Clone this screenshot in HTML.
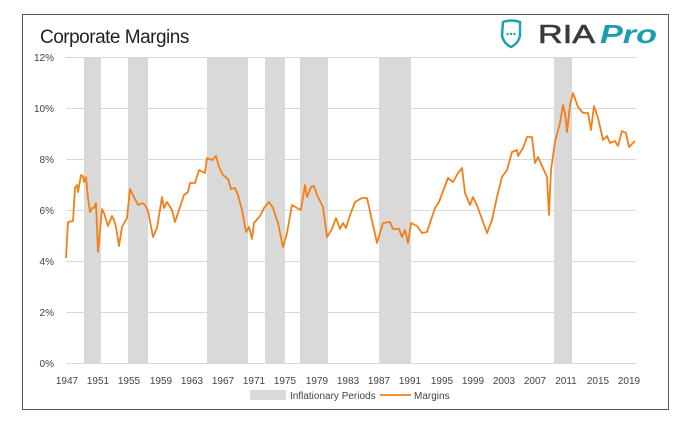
<!DOCTYPE html>
<html><head><style>
body{margin:0;background:#fff;width:696px;height:422px;overflow:hidden;font-family:"Liberation Sans",sans-serif}
</style></head><body>
<svg width="696" height="422" viewBox="0 0 696 422" xmlns="http://www.w3.org/2000/svg" font-family="Liberation Sans, sans-serif">
<rect x="22.5" y="14.5" width="646" height="395" fill="#fff" stroke="#555" stroke-width="1"/>
<text x="40" y="43" font-size="19" fill="#222" letter-spacing="-0.5">Corporate Margins</text>
<path d="M503 22 Q511 19 520 22 L520 35 Q519 43 511 47 Q503 43 502 35 Z" fill="none" stroke="#1aa3a8" stroke-width="2.5"/>
<circle cx="507.5" cy="34" r="1.2" fill="#1aa3a8"/><circle cx="511" cy="34" r="1.2" fill="#1aa3a8"/><circle cx="514.5" cy="34" r="1.2" fill="#1aa3a8"/>
<text x="538" y="43" font-size="26" fill="#3a3a3a" stroke="#3a3a3a" stroke-width="0.6" textLength="57" lengthAdjust="spacingAndGlyphs">RIA</text>
<text x="600" y="43" font-size="26" font-weight="bold" font-style="italic" fill="#1a9db0" textLength="57" lengthAdjust="spacingAndGlyphs">Pro</text>
<g fill="#d9d9d9">
<rect x="84" y="57" width="17" height="306"/><rect x="128" y="57" width="20" height="306"/>
<rect x="207" y="57" width="41" height="306"/><rect x="265" y="57" width="20" height="306"/>
<rect x="300" y="57" width="28" height="306"/><rect x="379" y="57" width="32" height="306"/>
<rect x="554" y="57" width="18" height="306"/>
</g>
<g stroke="#d9d9d9" stroke-width="1">
<line x1="66" x2="636" y1="57.5" y2="57.5"/><line x1="66" x2="636" y1="108.5" y2="108.5"/>
<line x1="66" x2="636" y1="159.5" y2="159.5"/><line x1="66" x2="636" y1="210.5" y2="210.5"/>
<line x1="66" x2="636" y1="261.5" y2="261.5"/><line x1="66" x2="636" y1="312.5" y2="312.5"/>
<line x1="66" x2="636" y1="363.5" y2="363.5"/>
</g>
<g font-size="10" fill="#444" text-anchor="end">
<text x="54" y="61">12%</text><text x="54" y="112">10%</text><text x="54" y="163">8%</text>
<text x="54" y="214">6%</text><text x="54" y="265">4%</text><text x="54" y="316">2%</text><text x="54" y="367">0%</text>
</g>
<g font-size="10" fill="#444" text-anchor="middle">
<text x="67" y="384">1947</text><text x="98" y="384">1951</text><text x="129" y="384">1955</text><text x="161" y="384">1959</text>
<text x="192" y="384">1963</text><text x="223" y="384">1967</text><text x="254" y="384">1971</text><text x="285" y="384">1975</text>
<text x="317" y="384">1979</text><text x="348" y="384">1983</text><text x="379" y="384">1987</text><text x="410" y="384">1991</text>
<text x="442" y="384">1995</text><text x="473" y="384">1999</text><text x="504" y="384">2003</text><text x="535" y="384">2007</text>
<text x="566" y="384">2011</text><text x="598" y="384">2015</text><text x="629" y="384">2019</text>
</g>
<polyline fill="none" stroke="#f47f17" stroke-width="1.8" stroke-linejoin="round" points="66,258 68,222 73,221 75,188 77,185 78,192 81,175 83,176 84,182 86,177 88,198 90,212 92,208 94,208 96,203 98,252 102,209 104,213 108,226 112,216 114,220 116,227 119,246 122,227 127,218 130,189 134,197 138,205 142,203 145,205 148,211 153,237 157,228 162,197 164,208 167,202 172,210 175,222 180,207 184,195 188,192 190,183 195,183 199,170 205,173 207,158 212,160 216,156 219,167 223,175 228,179 231,189 235,188 238,195 242,210 246,232 249,227 252,239 254,223 260,216 264,208 269,202 273,208 278,223 283,247 287,233 292,205 297,208 301,210 305,185 307,197 311,187 314,186 317,195 323,207 327,237 332,229 336,218 340,229 343,223 346,228 350,215 355,202 362,198 367,198 377,243 383,223 390,222 393,229 399,229 402,237 405,230 408,243 411,223 417,226 422,233 427,232 435,208 439,202 448,178 453,182 458,173 462,168 465,193 470,205 473,197 478,208 487,233 492,220 497,197 502,177 507,170 512,152 517,150 518,156 523,148 527,137 532,137 535,163 538,157 547,177 549,215 551,170 555,142 560,123 563,105 565,113 567,132 570,105 573,93 578,107 583,113 588,113 591,130 594,106 598,118 603,140 607,136 610,143 615,141 618,146 622,131 626,133 629,147 635,141"/>
<rect x="250" y="390" width="36" height="10" fill="#d9d9d9"/>
<text x="290" y="399" font-size="10" fill="#444">Inflationary Periods</text>
<line x1="380" x2="411" y1="395" y2="395" stroke="#f47f17" stroke-width="1.8"/>
<text x="414" y="399" font-size="10" fill="#444">Margins</text>
</svg>
</body></html>
